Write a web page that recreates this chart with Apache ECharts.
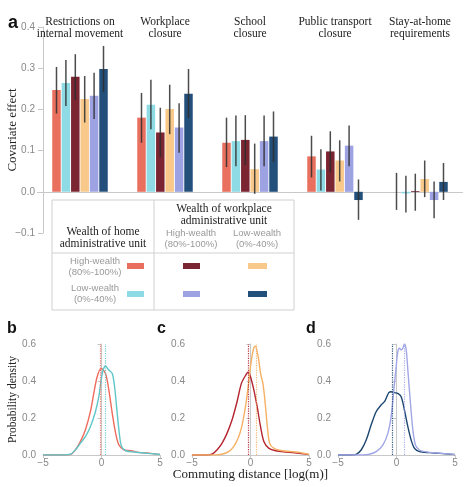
<!DOCTYPE html>
<html>
<head>
<meta charset="utf-8">
<script src="https://cdn.jsdelivr.net/npm/echarts@6/dist/echarts.min.js"></script>
<style>
  html, body { margin: 0; padding: 0; background: #fff; }
  #chart { width: 474px; height: 487px; }
</style>
</head>
<body>
<div id="chart"></div>
<script>
// policy categories (top panel)
const policies = ['Restrictions on\ninternal movement', 'Workplace\nclosure', 'School\nclosure', 'Public transport\nclosure', 'Stay-at-home\nrequirements'];
const groupNames = ['Home high', 'Home low', 'High → high', 'High → low', 'Low → high', 'Low → low'];
const colors = ['#E9705F', '#8EDBE6', '#7B2532', '#F9C98B', '#9CA2E2', '#234F7B'];

// covariate effects
const effHomeHigh = [0.247, 0.180, 0.119, 0.086, 0.000];
const effHomeLow  = [0.264, 0.211, 0.123, 0.054, -0.004];
const effHighHigh = [0.279, 0.144, 0.126, 0.098, 0.002];
const effHighLow  = [0.225, 0.201, 0.055, 0.076, 0.031];
const effLowHigh  = [0.233, 0.156, 0.123, 0.112, -0.020];
const effLowLow   = [0.298, 0.238, 0.134, -0.020, 0.024];

// confidence intervals
const loHomeHigh = [0.190, 0.119, 0.060, 0.035, -0.044];
const hiHomeHigh = [0.303, 0.240, 0.180, 0.136, 0.046];
const loHomeLow  = [0.208, 0.152, 0.062, 0.003, -0.050];
const hiHomeLow  = [0.320, 0.272, 0.185, 0.103, 0.039];
const loHighHigh = [0.223, 0.084, 0.065, 0.047, -0.046];
const hiHighHigh = [0.334, 0.204, 0.186, 0.147, 0.044];
const loHighLow  = [0.168, 0.140, -0.005, 0.025, -0.013];
const hiHighLow  = [0.281, 0.260, 0.117, 0.125, 0.076];
const loLowHigh  = [0.177, 0.095, 0.062, 0.062, -0.064];
const hiLowHigh  = [0.289, 0.215, 0.185, 0.161, 0.025];
const loLowLow   = [0.242, 0.179, 0.072, -0.068, -0.020];
const hiLowLow   = [0.354, 0.298, 0.195, 0.030, 0.070];

const effects = [effHomeHigh, effHomeLow, effHighHigh, effHighLow, effLowHigh, effLowLow];
const lows = [loHomeHigh, loHomeLow, loHighHigh, loHighLow, loLowHigh, loLowLow];
const highs = [hiHomeHigh, hiHomeLow, hiHighHigh, hiHighLow, hiLowHigh, hiLowLow];

// commuting distance densities [log(m), density]
const densHomeHigh = [[-5, 0], [-3.4, 0], [-2.67, 0.002], [-2.24, 0.027], [-1.81, 0.072], [-1.38, 0.135], [-0.95, 0.234], [-0.66, 0.333], [-0.37, 0.423], [-0.03, 0.468], [0.34, 0.441], [0.63, 0.351], [0.92, 0.225], [1.21, 0.117], [1.49, 0.054], [1.93, 0.027], [2.5, 0.023], [3.36, 0.013], [4.2, 0.009], [5, 0.003]];
const densHomeLow = [[-5, 0], [-3.4, 0], [-2.67, 0.004], [-2.24, 0.027], [-1.81, 0.063], [-1.38, 0.099], [-0.95, 0.153], [-0.52, 0.234], [-0.23, 0.315], [-0.03, 0.405], [0.14, 0.459], [0.34, 0.481], [0.63, 0.459], [0.92, 0.441], [1.12, 0.369], [1.29, 0.26], [1.49, 0.135], [1.7, 0.049], [2.07, 0.023], [2.79, 0.016], [3.94, 0.009], [5, 0.003]];
const densHighHigh = [[-5, 0], [-3.8, 0], [-3.3, 0.004], [-2.87, 0.027], [-2.44, 0.063], [-2.01, 0.117], [-1.58, 0.189], [-1.15, 0.288], [-0.78, 0.387], [-0.49, 0.423], [-0.2, 0.447], [0, 0.423], [0.29, 0.351], [0.57, 0.261], [0.86, 0.153], [1.15, 0.072], [1.58, 0.036], [2.16, 0.023], [3.02, 0.016], [4.17, 0.009], [5, 0.002]];
const densHighLow = [[-5, 0], [-3, 0], [-2.44, 0.004], [-1.87, 0.018], [-1.44, 0.045], [-1.01, 0.099], [-0.72, 0.162], [-0.43, 0.261], [-0.2, 0.369], [0, 0.477], [0.2, 0.558], [0.4, 0.589], [0.66, 0.53], [0.86, 0.441], [1.06, 0.387], [1.23, 0.297], [1.44, 0.153], [1.64, 0.063], [2.01, 0.036], [2.73, 0.023], [3.88, 0.016], [5, 0.004]];
const densLowLow = [[-5, 0], [-3.9, 0], [-3.45, 0.004], [-3.02, 0.027], [-2.59, 0.081], [-2.17, 0.162], [-1.74, 0.234], [-1.32, 0.27], [-1.03, 0.288], [-0.83, 0.315], [-0.66, 0.337], [-0.46, 0.342], [-0.17, 0.337], [0.11, 0.333], [0.4, 0.315], [0.68, 0.243], [0.97, 0.153], [1.25, 0.081], [1.54, 0.036], [1.97, 0.018], [2.82, 0.013], [3.68, 0.009], [5, 0.002]];
const densLowHigh = [[-5, 0], [-2.9, 0], [-2.31, 0.004], [-1.74, 0.018], [-1.17, 0.054], [-0.74, 0.117], [-0.46, 0.207], [-0.23, 0.351], [-0.03, 0.477], [0.11, 0.558], [0.26, 0.577], [0.4, 0.568], [0.54, 0.577], [0.68, 0.6], [0.83, 0.568], [0.97, 0.459], [1.17, 0.297], [1.4, 0.135], [1.62, 0.054], [1.97, 0.027], [2.82, 0.014], [3.96, 0.009], [5, 0.003]];

// medians (dotted lines)
const medB = [-0.1, 0.35];
const medC = [-0.2, 0.45];
const medD = [-0.35, 0.7];

const densTicks = [0, 0.2, 0.4, 0.6];

const serif = '"Liberation Serif", "DejaVu Serif", serif';
const sans = '"Liberation Sans", Arial, sans-serif';
const minus = v => String(v).replace('-', '\u2212');

const BAR_W = 8.5;
const BAR_STEP = 9.4;

const chart = echarts.init(document.getElementById('chart'));

function errorSeries(k) {
    return {
        type: 'custom',
        xAxisIndex: 0,
        yAxisIndex: 0,
        z: 5,
        silent: true,
        data: lows[k].map((v, i) => [i, v, highs[k][i]]),
        renderItem: (params, api) => {
            const a = api.coord([api.value(0), api.value(1)]);
            const b = api.coord([api.value(0), api.value(2)]);
            const dx = (k - 2.5) * BAR_STEP;
            return {
                type: 'line',
                shape: { x1: a[0] + dx, y1: a[1], x2: b[0] + dx, y2: b[1] },
                style: { stroke: 'rgba(45,45,45,0.85)', lineWidth: 1.5 }
            };
        }
    };
}

function densLine(data, color, med, xi, yi) {
    return {
        type: 'line',
        xAxisIndex: xi,
        yAxisIndex: yi,
        data: data,
        showSymbol: false,
        smooth: 0.3,
        lineStyle: { color: color, width: 1.4 },
        markLine: {
            silent: true,
            symbol: ['none', 'none'],
            label: { show: false },
            lineStyle: { color: color, type: 'dotted', width: 1.2, opacity: 0.9 },
            data: [{ xAxis: med }]
        }
    };
}

const densGrids = [43, 192, 338];

const xDens = densGrids.map((l, i) => ({
    type: 'value',
    gridIndex: i + 1,
    min: -5, max: 5, interval: 5,
    axisLine: { onZero: false, lineStyle: { color: '#c8c8c8' } },
    axisTick: { show: true, length: 3, lineStyle: { color: '#c8c8c8' } },
    axisLabel: { color: '#888', fontSize: 10, fontFamily: sans, margin: 3, formatter: minus },
    splitLine: { show: false },
    name: i === 1 ? 'Commuting distance [log(m)]' : '',
    nameLocation: 'middle',
    nameGap: 13,
    nameMoveOverlap: false,
    nameTextStyle: { fontFamily: serif, fontSize: 13, color: '#222' }
}));

const yDens = densGrids.map((l, i) => ({
    type: 'value',
    gridIndex: i + 1,
    min: densTicks[0], max: densTicks[densTicks.length - 1], interval: 0.2,
    axisLine: { show: true, lineStyle: { color: '#c8c8c8' } },
    axisTick: { show: true, length: 4, lineStyle: { color: '#c8c8c8' } },
    axisLabel: { color: '#888', fontSize: 10, fontFamily: sans, margin: 7, formatter: v => v.toFixed(1) },
    splitLine: { show: false },
    name: i === 0 ? 'Probability density' : '',
    nameLocation: 'middle',
    nameGap: 24,
    nameMoveOverlap: false,
    nameTextStyle: { fontFamily: serif, fontSize: 11.5, color: '#222' }
}));

// legend table
const tblX = 52, tblY = 200, tblW = 242, tblH = 110;
const graphic = [
    { type: 'text', x: 8, y: 14, style: { text: 'a', font: 'bold 18px ' + sans, fill: '#111' } },
    { type: 'text', x: 7, y: 321, style: { text: 'b', font: 'bold 16px ' + sans, fill: '#111' } },
    { type: 'text', x: 157, y: 321, style: { text: 'c', font: 'bold 16px ' + sans, fill: '#111' } },
    { type: 'text', x: 306, y: 321, style: { text: 'd', font: 'bold 16px ' + sans, fill: '#111' } },
    { type: 'rect', shape: { x: tblX, y: tblY, width: tblW, height: tblH }, style: { fill: '#fff', stroke: '#d0d0d0', lineWidth: 1 }, z: 10 },
    { type: 'line', shape: { x1: 154, y1: tblY, x2: 154, y2: tblY + tblH }, style: { stroke: '#d0d0d0', lineWidth: 1 }, z: 11 },
    { type: 'line', shape: { x1: tblX, y1: 253, x2: tblX + tblW, y2: 253 }, style: { stroke: '#d0d0d0', lineWidth: 1 }, z: 11 },
    { type: 'text', x: 224, y: 215, z: 11, style: { text: 'Wealth of workplace\nadministrative unit', font: '11.5px ' + serif, fill: '#222', align: 'center', verticalAlign: 'middle', lineHeight: 11.5 } },
    { type: 'text', x: 103, y: 238, z: 11, style: { text: 'Wealth of home\nadministrative unit', font: '11.5px ' + serif, fill: '#222', align: 'center', verticalAlign: 'middle', lineHeight: 11.5 } },
    { type: 'text', x: 191, y: 239, z: 11, style: { text: 'High-wealth\n(80%-100%)', font: '9.5px ' + sans, fill: '#999', align: 'center', verticalAlign: 'middle', lineHeight: 10.5 } },
    { type: 'text', x: 257, y: 239, z: 11, style: { text: 'Low-wealth\n(0%-40%)', font: '9.5px ' + sans, fill: '#999', align: 'center', verticalAlign: 'middle', lineHeight: 10.5 } },
    { type: 'text', x: 95, y: 267, z: 11, style: { text: 'High-wealth\n(80%-100%)', font: '9.5px ' + sans, fill: '#999', align: 'center', verticalAlign: 'middle', lineHeight: 10.5 } },
    { type: 'text', x: 95, y: 294, z: 11, style: { text: 'Low-wealth\n(0%-40%)', font: '9.5px ' + sans, fill: '#999', align: 'center', verticalAlign: 'middle', lineHeight: 10.5 } }
];
const swatchPos = [[127, 263, 17], [127, 291, 17], [183, 263, 17], [248, 263, 19], [183, 291, 17], [248, 291, 19]];
swatchPos.forEach((p, k) => {
    graphic.push({ type: 'rect', z: 11, shape: { x: p[0], y: p[1], width: p[2], height: 6 }, style: { fill: colors[k] } });
});

const barSeries = effects.map((vals, k) => ({
    name: groupNames[k],
    type: 'bar',
    xAxisIndex: 0,
    yAxisIndex: 0,
    data: vals,
    barWidth: BAR_W,
    barGap: ((BAR_STEP - BAR_W) / BAR_W * 100).toFixed(1) + '%',
    itemStyle: { color: colors[k] }
}));

const option = {
    animation: false,
    backgroundColor: '#fff',
    grid: [
        { left: 37.5, top: 27, width: 425, height: 206, outerBoundsMode: 'none' },
        { left: densGrids[0], top: 344, width: 117, height: 111, outerBoundsMode: 'none' },
        { left: densGrids[1], top: 344, width: 117, height: 111, outerBoundsMode: 'none' },
        { left: densGrids[2], top: 344, width: 117, height: 111, outerBoundsMode: 'none' }
    ],
    xAxis: [
        {
            type: 'category',
            gridIndex: 0,
            data: policies,
            axisLine: { onZero: true, lineStyle: { color: '#c8c8c8' } },
            axisTick: { show: false },
            axisLabel: { show: false }
        },
        {
            type: 'category',
            gridIndex: 0,
            position: 'top',
            data: policies,
            axisLine: { show: false },
            axisTick: { show: false },
            axisLabel: { interval: 0, margin: -13, fontFamily: serif, fontSize: 11.5, color: '#222', lineHeight: 11.7 }
        },
        ...xDens
    ],
    yAxis: [
        {
            type: 'value',
            gridIndex: 0,
            min: -0.1, max: 0.4, interval: 0.1,
            offset: -5.5,
            axisLine: { show: true, lineStyle: { color: '#c8c8c8' } },
            axisTick: { show: true, length: 5, lineStyle: { color: '#c8c8c8' } },
            axisLabel: { color: '#888', fontSize: 10, fontFamily: sans, margin: 8, formatter: v => minus(v.toFixed(1)) },
            splitLine: { show: false },
            name: 'Covariate effect',
            nameLocation: 'middle',
            nameGap: 24,
            nameMoveOverlap: false,
            nameTextStyle: { fontFamily: serif, fontSize: 13, color: '#222' }
        },
        ...yDens
    ],
    graphic: graphic,
    series: [
        ...barSeries,
        ...effects.map((v, k) => errorSeries(k)),
        densLine(densHomeHigh, '#EE6B5E', medB[0], 2, 1),
        densLine(densHomeLow, '#5FC6C8', medB[1], 2, 1),
        densLine(densHighHigh, '#B3242F', medC[0], 3, 2),
        densLine(densHighLow, '#F5B064', medC[1], 3, 2),
        densLine(densLowLow, '#1C4670', medD[0], 4, 3),
        densLine(densLowHigh, '#A1A6E6', medD[1], 4, 3)
    ]
};

chart.setOption(option);
</script>
</body>
</html>
